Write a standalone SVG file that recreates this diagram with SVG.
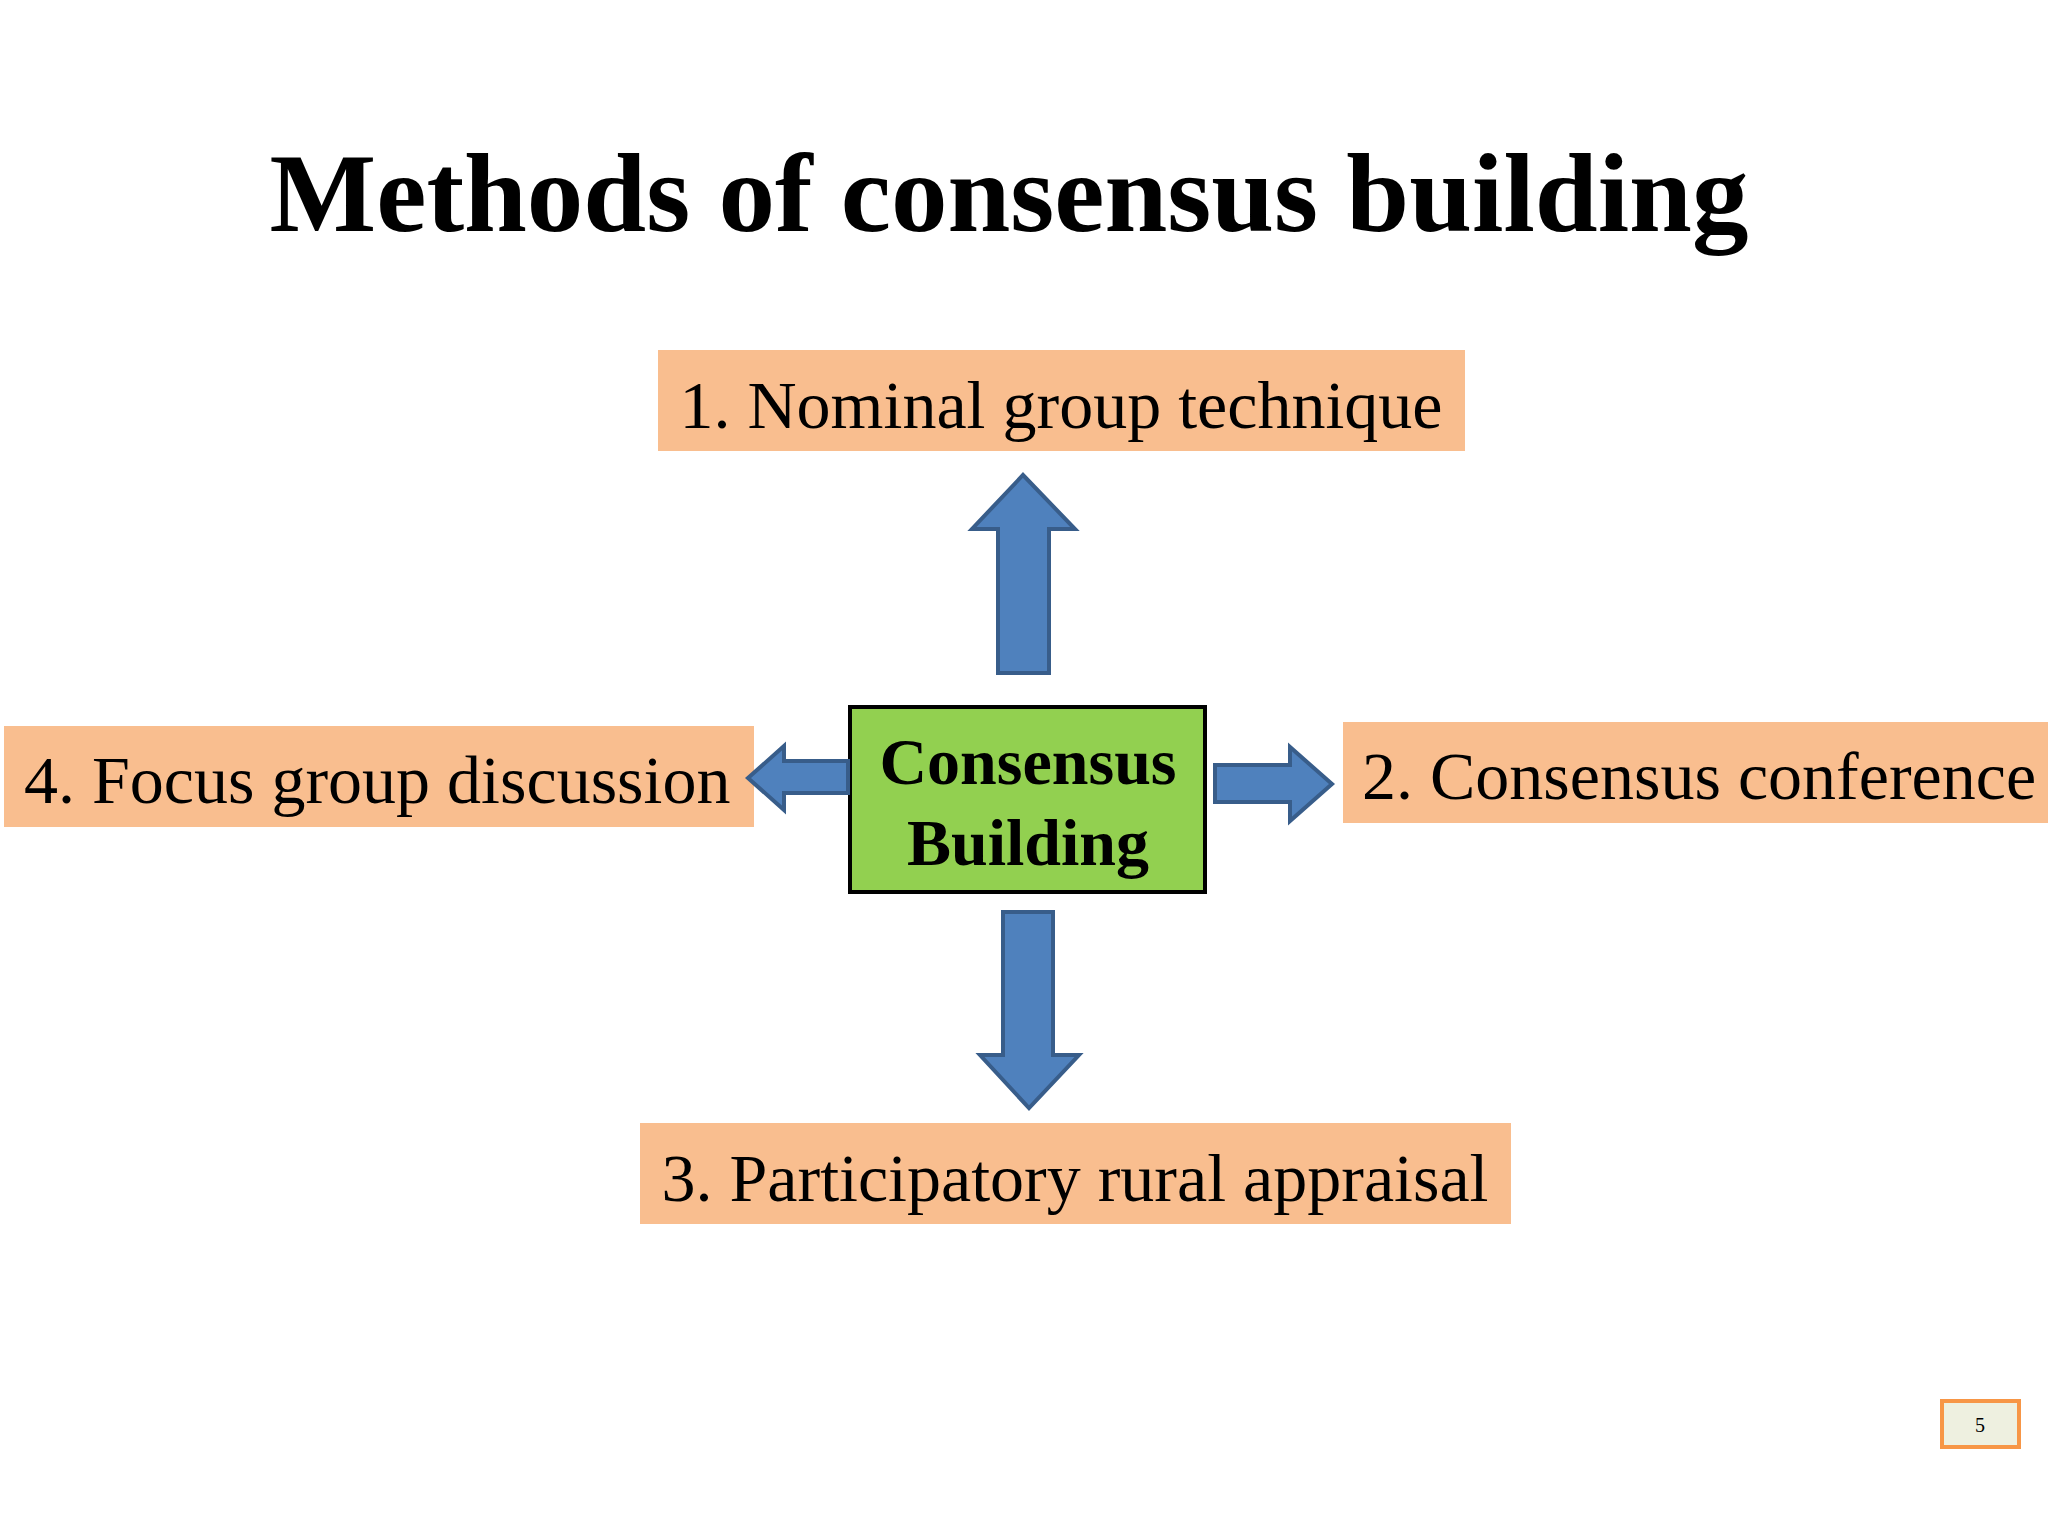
<svg xmlns="http://www.w3.org/2000/svg" width="2048" height="1536" viewBox="0 0 2048 1536">
<style>
.box{fill:#f9be8f}
.t{font-family:"Liberation Serif",serif;font-size:68px;fill:#000}
.arr{fill:#4f81bd;stroke:#385d8a;stroke-width:4;stroke-linejoin:miter}
</style>
<rect width="2048" height="1536" fill="#fff"/>
<text x="1009" y="231" text-anchor="middle" font-family="Liberation Serif,serif" font-weight="bold" font-size="113">Methods of consensus building</text>
<g id="n1"><rect class="box" x="658" y="350" width="807" height="101"/><text class="t" x="1061" y="428" text-anchor="middle">1. Nominal group technique</text></g>
<g id="n2"><rect class="box" x="1343" y="722" width="705" height="101"/><text class="t" x="1362" y="799">2. Consensus conference</text></g>
<g id="n3"><rect class="box" x="640" y="1123" width="871" height="101"/><text class="t" x="1075" y="1201" text-anchor="middle">3. Participatory rural appraisal</text></g>
<g id="n4"><rect class="box" x="4" y="726" width="750" height="101"/><text class="t" x="24" y="803">4. Focus group discussion</text></g>
<g id="center"><rect x="850" y="707" width="355" height="185" fill="#92d050" stroke="#000" stroke-width="4"/>
<text x="1028" y="784" text-anchor="middle" font-family="Liberation Serif,serif" font-weight="bold" font-size="66">Consensus</text>
<text x="1028" y="865" text-anchor="middle" font-family="Liberation Serif,serif" font-weight="bold" font-size="66">Building</text></g>
<g id="connectors">
<polygon class="arr" points="998,673 998,529 972,529 1023,475 1075,529 1049,529 1049,673"/>
<polygon class="arr" points="1003,912 1053,912 1053,1055 1079,1055 1029,1108 980,1055 1003,1055"/>
<polygon class="arr" points="1215,765 1290,765 1290,747 1332,784 1290,821 1290,802 1215,802"/>
<polygon class="arr" points="848,761 784,761 784,746 748,778 784,810 784,793 848,793"/>
</g>
<g id="page"><rect x="1942" y="1401" width="77" height="46" fill="#eef0e0" stroke="#f79646" stroke-width="4"/><text x="1980" y="1432" text-anchor="middle" font-family="Liberation Serif,serif" font-size="20">5</text></g>
</svg>
